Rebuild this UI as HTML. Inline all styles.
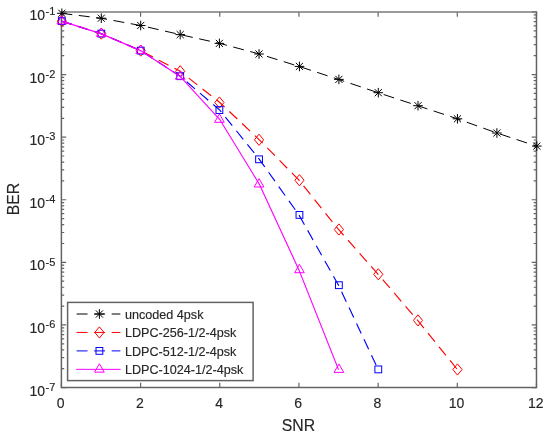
<!DOCTYPE html>
<html><head><meta charset="utf-8"><style>
html,body{margin:0;padding:0;background:#fff;width:550px;height:436px;overflow:hidden}
svg{display:block;filter:blur(0.35px)}
text{font-family:"Liberation Sans",Arial,sans-serif;fill:#262626;stroke:#262626;stroke-width:0.15px}
.tk{font-size:14px}
.lg{font-size:12.6px}
.al{font-size:15.8px}
</style></head><body>
<svg width="550" height="436" viewBox="0 0 550 436"><rect width="550" height="436" fill="#fff"/><path d="M61.40 11.95h4.8M536.48 11.95h-4.8M61.40 55.71h2.8M536.48 55.71h-2.8M61.40 44.68h2.8M536.48 44.68h-2.8M61.40 36.86h2.8M536.48 36.86h-2.8M61.40 30.79h2.8M536.48 30.79h-2.8M61.40 25.84h2.8M536.48 25.84h-2.8M61.40 21.65h2.8M536.48 21.65h-2.8M61.40 18.02h2.8M536.48 18.02h-2.8M61.40 14.81h2.8M536.48 14.81h-2.8M61.40 74.55h4.8M536.48 74.55h-4.8M61.40 118.31h2.8M536.48 118.31h-2.8M61.40 107.28h2.8M536.48 107.28h-2.8M61.40 99.46h2.8M536.48 99.46h-2.8M61.40 93.39h2.8M536.48 93.39h-2.8M61.40 88.44h2.8M536.48 88.44h-2.8M61.40 84.25h2.8M536.48 84.25h-2.8M61.40 80.62h2.8M536.48 80.62h-2.8M61.40 77.41h2.8M536.48 77.41h-2.8M61.40 137.15h4.8M536.48 137.15h-4.8M61.40 180.91h2.8M536.48 180.91h-2.8M61.40 169.88h2.8M536.48 169.88h-2.8M61.40 162.06h2.8M536.48 162.06h-2.8M61.40 155.99h2.8M536.48 155.99h-2.8M61.40 151.04h2.8M536.48 151.04h-2.8M61.40 146.85h2.8M536.48 146.85h-2.8M61.40 143.22h2.8M536.48 143.22h-2.8M61.40 140.01h2.8M536.48 140.01h-2.8M61.40 199.75h4.8M536.48 199.75h-4.8M61.40 243.51h2.8M536.48 243.51h-2.8M61.40 232.48h2.8M536.48 232.48h-2.8M61.40 224.66h2.8M536.48 224.66h-2.8M61.40 218.59h2.8M536.48 218.59h-2.8M61.40 213.64h2.8M536.48 213.64h-2.8M61.40 209.45h2.8M536.48 209.45h-2.8M61.40 205.82h2.8M536.48 205.82h-2.8M61.40 202.61h2.8M536.48 202.61h-2.8M61.40 262.35h4.8M536.48 262.35h-4.8M61.40 306.11h2.8M536.48 306.11h-2.8M61.40 295.08h2.8M536.48 295.08h-2.8M61.40 287.26h2.8M536.48 287.26h-2.8M61.40 281.19h2.8M536.48 281.19h-2.8M61.40 276.24h2.8M536.48 276.24h-2.8M61.40 272.05h2.8M536.48 272.05h-2.8M61.40 268.42h2.8M536.48 268.42h-2.8M61.40 265.21h2.8M536.48 265.21h-2.8M61.40 324.95h4.8M536.48 324.95h-4.8M61.40 368.71h2.8M536.48 368.71h-2.8M61.40 357.68h2.8M536.48 357.68h-2.8M61.40 349.86h2.8M536.48 349.86h-2.8M61.40 343.79h2.8M536.48 343.79h-2.8M61.40 338.84h2.8M536.48 338.84h-2.8M61.40 334.65h2.8M536.48 334.65h-2.8M61.40 331.02h2.8M536.48 331.02h-2.8M61.40 327.81h2.8M536.48 327.81h-2.8M61.40 387.55h4.8M536.48 387.55h-4.8M61.40 387.55v-4.8M61.40 11.95v4.8M140.58 387.55v-4.8M140.58 11.95v4.8M219.76 387.55v-4.8M219.76 11.95v4.8M298.94 387.55v-4.8M298.94 11.95v4.8M378.12 387.55v-4.8M378.12 11.95v4.8M457.30 387.55v-4.8M457.30 11.95v4.8M536.48 387.55v-4.8M536.48 11.95v4.8" stroke="#666666" stroke-width="1.2" fill="none"/><path d="M61.40 11.95V387.55H536.48V11.95" stroke="#636363" stroke-width="1.5" fill="none" stroke-linecap="square"/><path d="M61.40 11.95H536.48" stroke="#7a7a7a" stroke-width="1.5" fill="none"/><polyline points="61.40,13.30 100.99,18.20 140.58,25.50 180.17,34.60 219.76,43.40 259.35,54.00 298.94,66.40 338.53,79.40 378.12,92.70 417.71,105.70 457.30,118.80 496.89,133.00 536.48,146.10" stroke="#000000" stroke-width="1.0" fill="none" stroke-dasharray="10.95 6.58"/><path d="M57.05 13.30h9.60M61.85 8.50v9.60M58.30 9.75l7.10 7.10M58.30 16.85l7.10 -7.10" stroke="#000" stroke-width="1.0" fill="none"/><path d="M96.50 18.20h9.60M101.30 13.40v9.60M97.75 14.65l7.10 7.10M97.75 21.75l7.10 -7.10" stroke="#000" stroke-width="1.0" fill="none"/><path d="M135.90 25.50h9.60M140.70 20.70v9.60M137.15 21.95l7.10 7.10M137.15 29.05l7.10 -7.10" stroke="#000" stroke-width="1.0" fill="none"/><path d="M175.40 34.60h9.60M180.20 29.80v9.60M176.65 31.05l7.10 7.10M176.65 38.15l7.10 -7.10" stroke="#000" stroke-width="1.0" fill="none"/><path d="M214.60 43.40h9.60M219.40 38.60v9.60M215.85 39.85l7.10 7.10M215.85 46.95l7.10 -7.10" stroke="#000" stroke-width="1.0" fill="none"/><path d="M254.25 54.00h9.60M259.05 49.20v9.60M255.50 50.45l7.10 7.10M255.50 57.55l7.10 -7.10" stroke="#000" stroke-width="1.0" fill="none"/><path d="M294.65 66.40h9.60M299.45 61.60v9.60M295.90 62.85l7.10 7.10M295.90 69.95l7.10 -7.10" stroke="#000" stroke-width="1.0" fill="none"/><path d="M334.10 79.40h9.60M338.90 74.60v9.60M335.35 75.85l7.10 7.10M335.35 82.95l7.10 -7.10" stroke="#000" stroke-width="1.0" fill="none"/><path d="M373.50 92.70h9.60M378.30 87.90v9.60M374.75 89.15l7.10 7.10M374.75 96.25l7.10 -7.10" stroke="#000" stroke-width="1.0" fill="none"/><path d="M413.20 105.70h9.60M418.00 100.90v9.60M414.45 102.15l7.10 7.10M414.45 109.25l7.10 -7.10" stroke="#000" stroke-width="1.0" fill="none"/><path d="M452.65 118.80h9.60M457.45 114.00v9.60M453.90 115.25l7.10 7.10M453.90 122.35l7.10 -7.10" stroke="#000" stroke-width="1.0" fill="none"/><path d="M492.10 133.00h9.60M496.90 128.20v9.60M493.35 129.45l7.10 7.10M493.35 136.55l7.10 -7.10" stroke="#000" stroke-width="1.0" fill="none"/><path d="M532.00 146.10h9.60M536.80 141.30v9.60M533.25 142.55l7.10 7.10M533.25 149.65l7.10 -7.10" stroke="#000" stroke-width="1.0" fill="none"/><polyline points="61.40,21.10 100.99,33.60 140.58,50.60 180.17,71.30 219.76,102.50 259.35,139.80 298.94,180.20 338.53,229.50 378.12,274.30 417.71,320.40 457.30,369.50" stroke="#ff0000" stroke-width="1.15" fill="none" stroke-dasharray="10.95 6.58"/><path d="M61.85 15.50L66.45 21.10L61.85 26.70L57.25 21.10Z" stroke="#ff0000" stroke-width="1.0" fill="none"/><path d="M101.30 28.00L105.90 33.60L101.30 39.20L96.70 33.60Z" stroke="#ff0000" stroke-width="1.0" fill="none"/><path d="M140.70 45.00L145.30 50.60L140.70 56.20L136.10 50.60Z" stroke="#ff0000" stroke-width="1.0" fill="none"/><path d="M180.20 65.70L184.80 71.30L180.20 76.90L175.60 71.30Z" stroke="#ff0000" stroke-width="1.0" fill="none"/><path d="M219.40 96.90L224.00 102.50L219.40 108.10L214.80 102.50Z" stroke="#ff0000" stroke-width="1.0" fill="none"/><path d="M259.05 134.20L263.65 139.80L259.05 145.40L254.45 139.80Z" stroke="#ff0000" stroke-width="1.0" fill="none"/><path d="M299.45 174.60L304.05 180.20L299.45 185.80L294.85 180.20Z" stroke="#ff0000" stroke-width="1.0" fill="none"/><path d="M338.90 223.90L343.50 229.50L338.90 235.10L334.30 229.50Z" stroke="#ff0000" stroke-width="1.0" fill="none"/><path d="M378.30 268.70L382.90 274.30L378.30 279.90L373.70 274.30Z" stroke="#ff0000" stroke-width="1.0" fill="none"/><path d="M418.00 314.80L422.60 320.40L418.00 326.00L413.40 320.40Z" stroke="#ff0000" stroke-width="1.0" fill="none"/><path d="M457.45 363.90L462.05 369.50L457.45 375.10L452.85 369.50Z" stroke="#ff0000" stroke-width="1.0" fill="none"/><polyline points="61.40,21.10 100.99,33.60 140.58,50.60 180.17,76.20 219.76,110.10 259.35,159.30 298.94,214.90 338.53,285.20 378.12,369.40" stroke="#0000ff" stroke-width="1.15" fill="none" stroke-dasharray="10.95 6.58"/><rect x="58.45" y="17.70" width="6.80" height="6.80" stroke="#0000ff" stroke-width="1.0" fill="none"/><rect x="97.90" y="30.20" width="6.80" height="6.80" stroke="#0000ff" stroke-width="1.0" fill="none"/><rect x="137.30" y="47.20" width="6.80" height="6.80" stroke="#0000ff" stroke-width="1.0" fill="none"/><rect x="176.80" y="72.80" width="6.80" height="6.80" stroke="#0000ff" stroke-width="1.0" fill="none"/><rect x="216.00" y="106.70" width="6.80" height="6.80" stroke="#0000ff" stroke-width="1.0" fill="none"/><rect x="255.65" y="155.90" width="6.80" height="6.80" stroke="#0000ff" stroke-width="1.0" fill="none"/><rect x="296.05" y="211.50" width="6.80" height="6.80" stroke="#0000ff" stroke-width="1.0" fill="none"/><rect x="335.50" y="281.80" width="6.80" height="6.80" stroke="#0000ff" stroke-width="1.0" fill="none"/><rect x="374.90" y="366.00" width="6.80" height="6.80" stroke="#0000ff" stroke-width="1.0" fill="none"/><polyline points="61.40,21.10 100.99,33.60 140.58,50.60 180.17,76.40 219.76,119.50 259.35,184.20 298.94,269.90 338.53,369.60" stroke="#ff00ff" stroke-width="1.15" fill="none"/><path d="M61.85 15.50L66.70 23.90L57.00 23.90Z" stroke="#ff00ff" stroke-width="1.0" fill="none"/><path d="M101.30 28.00L106.15 36.40L96.45 36.40Z" stroke="#ff00ff" stroke-width="1.0" fill="none"/><path d="M140.70 45.00L145.55 53.40L135.85 53.40Z" stroke="#ff00ff" stroke-width="1.0" fill="none"/><path d="M180.20 70.80L185.05 79.20L175.35 79.20Z" stroke="#ff00ff" stroke-width="1.0" fill="none"/><path d="M219.40 113.90L224.25 122.30L214.55 122.30Z" stroke="#ff00ff" stroke-width="1.0" fill="none"/><path d="M259.05 178.60L263.90 187.00L254.20 187.00Z" stroke="#ff00ff" stroke-width="1.0" fill="none"/><path d="M299.45 264.30L304.30 272.70L294.60 272.70Z" stroke="#ff00ff" stroke-width="1.0" fill="none"/><path d="M338.90 364.00L343.75 372.40L334.05 372.40Z" stroke="#ff00ff" stroke-width="1.0" fill="none"/><rect x="67.6" y="302.4" width="185.50" height="78.20" fill="#fff" stroke="#636363" stroke-width="1.5"/><path d="M76.6 314.0H120.4" stroke="#000000" stroke-width="1.0" fill="none" stroke-dasharray="10.95 6.58"/><path d="M94.60 314.00h9.60M99.40 309.20v9.60M95.85 310.45l7.10 7.10M95.85 317.55l7.10 -7.10" stroke="#000000" stroke-width="1.0" fill="none"/><text x="125" y="318.75" class="lg">uncoded 4psk</text><path d="M76.6 332.45H120.4" stroke="#ff0000" stroke-width="1.0" fill="none" stroke-dasharray="10.95 6.58"/><path d="M99.40 326.85L104.00 332.45L99.40 338.05L94.80 332.45Z" stroke="#ff0000" stroke-width="1.0" fill="none"/><text x="125" y="337.20" class="lg">LDPC-256-1/2-4psk</text><path d="M76.6 350.9H120.4" stroke="#0000ff" stroke-width="1.0" fill="none" stroke-dasharray="10.95 6.58"/><rect x="96.00" y="347.50" width="6.80" height="6.80" stroke="#0000ff" stroke-width="1.0" fill="none"/><text x="125" y="355.65" class="lg">LDPC-512-1/2-4psk</text><path d="M76.2 369.35H120.6" stroke="#ff00ff" stroke-width="1.0" fill="none"/><path d="M99.40 363.75L104.25 372.15L94.55 372.15Z" stroke="#ff00ff" stroke-width="1.0" fill="none"/><text x="125" y="374.10" class="lg">LDPC-1024-1/2-4psk</text><text x="60.70" y="408.1" class="tk" text-anchor="middle">0</text><text x="139.88" y="408.1" class="tk" text-anchor="middle">2</text><text x="219.06" y="408.1" class="tk" text-anchor="middle">4</text><text x="298.24" y="408.1" class="tk" text-anchor="middle">6</text><text x="377.42" y="408.1" class="tk" text-anchor="middle">8</text><text x="456.60" y="408.1" class="tk" text-anchor="middle">10</text><text x="535.78" y="408.1" class="tk" text-anchor="middle">12</text><text x="55.4" y="20.05" class="tk" text-anchor="end">10<tspan dx="0.6" dy="-4.9" font-size="11">-1</tspan></text><text x="55.4" y="82.65" class="tk" text-anchor="end">10<tspan dx="0.6" dy="-4.9" font-size="11">-2</tspan></text><text x="55.4" y="145.25" class="tk" text-anchor="end">10<tspan dx="0.6" dy="-4.9" font-size="11">-3</tspan></text><text x="55.4" y="207.85" class="tk" text-anchor="end">10<tspan dx="0.6" dy="-4.9" font-size="11">-4</tspan></text><text x="55.4" y="270.45" class="tk" text-anchor="end">10<tspan dx="0.6" dy="-4.9" font-size="11">-5</tspan></text><text x="55.4" y="333.05" class="tk" text-anchor="end">10<tspan dx="0.6" dy="-4.9" font-size="11">-6</tspan></text><text x="55.4" y="395.65" class="tk" text-anchor="end">10<tspan dx="0.6" dy="-4.9" font-size="11">-7</tspan></text><text x="298.5" y="430.6" class="al" text-anchor="middle">SNR</text><text transform="translate(19.3 199) rotate(-90)" class="al" text-anchor="middle">BER</text></svg>
</body></html>
